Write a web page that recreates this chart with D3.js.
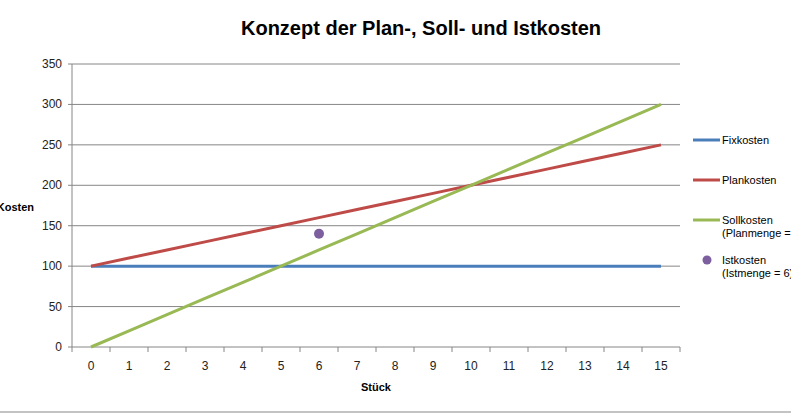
<!DOCTYPE html>
<html><head><meta charset="utf-8">
<script src="https://cdn.jsdelivr.net/npm/d3@7"></script>
<style>body{margin:0;background:#fff;overflow:hidden}svg{font-family:"Liberation Sans",Arial,sans-serif}</style>
</head><body>
<script>
var stueck = [0,1,2,3,4,5,6,7,8,9,10,11,12,13,14,15];
var fixkosten = [100,100,100,100,100,100,100,100,100,100,100,100,100,100,100,100];
var plankosten = [100,110,120,130,140,150,160,170,180,190,200,210,220,230,240,250];
var sollkosten = [0,20,40,60,80,100,120,140,160,180,200,220,240,260,280,300];
var istkosten = [{x: 6, y: 140}];
var yTicks = [0,50,100,150,200,250,300,350];

var svg = d3.select("body").append("svg").attr("width", 791).attr("height", 415);

var x = d3.scaleBand().domain(stueck).range([72, 680]);
var y = d3.scaleLinear().domain([0, 350]).range([347, 64]);
var cx = function(d){ return x(d) + x.bandwidth() / 2; };

// grid
svg.append("g").selectAll("line").data(yTicks).join("line")
	.attr("x1", 68).attr("x2", 680)
	.attr("y1", function(d){ return y(d); }).attr("y2", function(d){ return y(d); })
	.attr("stroke", "#868686");

// y axis
svg.append("line").attr("x1", 72).attr("x2", 72).attr("y1", 64).attr("y2", 347).attr("stroke", "#868686");
svg.append("g").selectAll("text").data(yTicks).join("text")
	.attr("x", 62).attr("y", function(d){ return y(d) + 4; })
	.attr("text-anchor", "end").attr("font-size", 12).attr("fill", "#222")
	.text(function(d){ return d; });

// x axis ticks at boundaries
svg.append("g").selectAll("line").data(d3.range(17)).join("line")
	.attr("x1", function(i){ return 72 + i * x.step(); }).attr("x2", function(i){ return 72 + i * x.step(); })
	.attr("y1", 347).attr("y2", 352).attr("stroke", "#868686");
svg.append("g").selectAll("text").data(stueck).join("text")
	.attr("x", cx).attr("y", 370).attr("text-anchor", "middle").attr("font-size", 12).attr("fill", "#222")
	.text(function(d){ return d; });

var line = function(vals){
	return d3.line().x(function(d, i){ return cx(stueck[i]); }).y(function(d){ return y(d); })(vals);
};
var series = [
	{name: "Fixkosten", vals: fixkosten, color: "#4a7ebb"},
	{name: "Plankosten", vals: plankosten, color: "#be4b48"},
	{name: "Sollkosten", vals: sollkosten, color: "#98b954"}
];
series.forEach(function(s){
	svg.append("path").attr("d", line(s.vals)).attr("fill", "none")
		.attr("stroke", s.color).attr("stroke-width", 3);
});
svg.selectAll("circle.ist").data(istkosten).join("circle").attr("class", "ist")
	.attr("cx", function(d){ return cx(d.x); }).attr("cy", function(d){ return y(d.y); })
	.attr("r", 5).attr("fill", "#7d5fa0");

// titles
svg.append("text").attr("x", 421).attr("y", 35).attr("text-anchor", "middle")
	.attr("font-size", 20).attr("font-weight", "bold").text("Konzept der Plan-, Soll- und Istkosten");
svg.append("text").attr("x", 34).attr("y", 211).attr("text-anchor", "end")
	.attr("font-size", 11).attr("font-weight", "bold").text("Kosten");
svg.append("text").attr("x", 376).attr("y", 391).attr("text-anchor", "middle")
	.attr("font-size", 11).attr("font-weight", "bold").text("Stück");

// legend
var leg = [
	{lines: ["Fixkosten"], y: 140, color: "#4a7ebb"},
	{lines: ["Plankosten"], y: 180, color: "#be4b48"},
	{lines: ["Sollkosten", "(Planmenge = Istmenge)"], y: 220, color: "#98b954"}
];
leg.forEach(function(l){
	svg.append("line").attr("x1", 693).attr("x2", 720).attr("y1", l.y).attr("y2", l.y)
		.attr("stroke", l.color).attr("stroke-width", 3);
	l.lines.forEach(function(t, i){
		svg.append("text").attr("x", 722).attr("y", l.y + 4 + i * 13).attr("font-size", 11).text(t);
	});
});
svg.append("circle").attr("cx", 707).attr("cy", 260).attr("r", 4.5).attr("fill", "#7d5fa0");
svg.append("text").attr("x", 722).attr("y", 264).attr("font-size", 11).text("Istkosten");
svg.append("text").attr("x", 722).attr("y", 277).attr("font-size", 11).text("(Istmenge = 6)");

svg.append("line").attr("x1", 0).attr("x2", 791).attr("y1", 412).attr("y2", 412).attr("stroke", "#888");
</script>
</body></html>
